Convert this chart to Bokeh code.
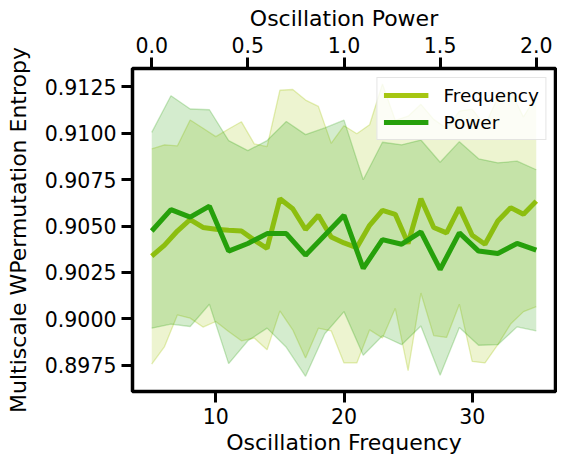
from bokeh.plotting import figure
from bokeh.models import (Range1d, LinearAxis, FixedTicker, Legend, LegendItem,
                          ColumnDataSource)
from bokeh.embed import file_html
from bokeh.resources import INLINE

# ---- data ----
freq = [5, 6, 7, 8, 9, 10, 11, 12, 13, 14, 15, 16, 17, 18, 19, 20,
        21, 22, 23, 24, 25, 26, 27, 28, 29, 30, 31, 32, 33, 34, 35]
freq_mean = [0.90338, 0.90397, 0.90473, 0.90535, 0.90492, 0.90483, 0.90477, 0.90473,
             0.90424, 0.90379, 0.90647, 0.90593, 0.90481, 0.90558, 0.90441, 0.90409,
             0.90384, 0.90504, 0.90584, 0.90563, 0.90406, 0.90647, 0.90492, 0.90463,
             0.90599, 0.90450, 0.90402, 0.90527, 0.90599, 0.90563, 0.90634]
freq_upper = [0.90915, 0.90937, 0.90931, 0.91071, 0.91026, 0.90981, 0.91022, 0.91061,
              0.90942, 0.90927, 0.91231, 0.91235, 0.91178, 0.91144, 0.90945, 0.91040,
              0.90997, 0.91045, 0.91265, 0.91069, 0.91091, 0.91155, 0.91074, 0.91026,
              0.91119, 0.91129, 0.91041, 0.91193, 0.91226, 0.91087, 0.91202]
freq_lower = [0.89757, 0.89851, 0.90021, 0.90004, 0.89956, 0.89986, 0.89932, 0.89882,
              0.89897, 0.89834, 0.90043, 0.89941, 0.89789, 0.89950, 0.89936, 0.89763,
              0.89763, 0.89941, 0.89897, 0.90057, 0.89721, 0.90139, 0.89910, 0.89900,
              0.90079, 0.89771, 0.89763, 0.89861, 0.89972, 0.90039, 0.90066]

power = [0.0, 0.1, 0.2, 0.3, 0.4, 0.5, 0.6, 0.7, 0.8, 0.9, 1.0,
         1.1, 1.2, 1.3, 1.4, 1.5, 1.6, 1.7, 1.8, 1.9, 2.0]
power_mean = [0.90473, 0.90588, 0.90548, 0.90607, 0.90365, 0.90406, 0.90459, 0.90459,
              0.90343, 0.90450, 0.90558, 0.90272, 0.90427, 0.90402, 0.90468, 0.90266,
              0.90463, 0.90365, 0.90352, 0.90406, 0.90370]
power_upper = [0.91004, 0.91201, 0.91130, 0.91126, 0.90960, 0.90906, 0.90960, 0.91063,
               0.90992, 0.91028, 0.91070, 0.90749, 0.90951, 0.90937, 0.90963, 0.90843,
               0.90954, 0.90862, 0.90840, 0.90849, 0.90803]
power_lower = [0.89950, 0.89972, 0.89959, 0.90079, 0.89759, 0.89882, 0.89950, 0.89847,
               0.89691, 0.89920, 0.90039, 0.89804, 0.89909, 0.89861, 0.89962, 0.89696,
               0.89954, 0.89858, 0.89861, 0.89957, 0.89936]

y_ticks = [0.8975, 0.9000, 0.9025, 0.9050, 0.9075, 0.9100, 0.9125]
y_tick_labels = ["0.8975", "0.9000", "0.9025", "0.9050", "0.9075", "0.9100", "0.9125"]
freq_ticks = [10, 20, 30]
power_ticks = [0.0, 0.5, 1.0, 1.5, 2.0]
power_tick_labels = ["0.0", "0.5", "1.0", "1.5", "2.0"]

FREQ_COLOR = "#a6c612"
POWER_COLOR = "#26a00b"
FONT = "DejaVu Sans"

fsrc = ColumnDataSource(dict(x=freq, m=freq_mean, u=freq_upper, l=freq_lower))
psrc = ColumnDataSource(dict(x=power, m=power_mean, u=power_upper, l=power_lower))

p = figure(width=557, height=460,
           x_range=Range1d(3.5, 36.5), y_range=Range1d(0.89609, 0.91348),
           output_backend="svg", toolbar_location=None,
           min_border_left=132, min_border_right=2, min_border_top=68, min_border_bottom=69)
p.extra_x_ranges = {"power": Range1d(-0.1, 2.1)}

p.grid.visible = False
p.outline_line_color = "black"
p.outline_line_width = 3.5
p.background_fill_color = "white"
p.border_fill_color = "white"

# frequency band + line
p.varea(x="x", y1="l", y2="u", source=fsrc, fill_color=FREQ_COLOR, fill_alpha=0.2)
p.line(x="x", y="u", source=fsrc, line_color=FREQ_COLOR, line_alpha=0.3, line_width=1.3)
p.line(x="x", y="l", source=fsrc, line_color=FREQ_COLOR, line_alpha=0.3, line_width=1.3)
fl = p.line(x="x", y="m", source=fsrc, line_color=FREQ_COLOR, line_width=5)

# power band + line
p.varea(x="x", y1="l", y2="u", source=psrc, fill_color=POWER_COLOR, fill_alpha=0.2,
        x_range_name="power")
p.line(x="x", y="u", source=psrc, line_color=POWER_COLOR, line_alpha=0.25, line_width=1.3,
       x_range_name="power")
p.line(x="x", y="l", source=psrc, line_color=POWER_COLOR, line_alpha=0.25, line_width=1.3,
       x_range_name="power")
pl = p.line(x="x", y="m", source=psrc, line_color=POWER_COLOR, line_width=5,
            x_range_name="power")

top_axis = LinearAxis(x_range_name="power", axis_label="Oscillation Power")
p.add_layout(top_axis, "above")

p.xaxis[1].axis_label = "Oscillation Frequency"
p.yaxis.axis_label = "Multiscale WPermutation Entropy"

p.xaxis[1].ticker = FixedTicker(ticks=freq_ticks)
top_axis.ticker = FixedTicker(ticks=power_ticks)
top_axis.major_label_overrides = {t: s for t, s in zip(power_ticks, power_tick_labels)}
p.yaxis.ticker = FixedTicker(ticks=y_ticks)
p.yaxis.major_label_overrides = {t: s for t, s in zip(y_ticks, y_tick_labels)}

for ax in [p.xaxis[0], p.xaxis[1], p.yaxis[0]]:
    ax.axis_line_color = None
    ax.major_tick_line_color = "black"
    ax.major_tick_line_width = 3
    ax.major_tick_out = 11
    ax.major_tick_in = 0
    ax.minor_tick_line_color = None
    ax.major_label_text_font = FONT
    ax.major_label_text_font_size = "20.5px"
    ax.major_label_text_color = "black"
    ax.major_label_standoff = 5
    ax.axis_label_text_font = FONT
    ax.axis_label_text_font_size = "22px"
    ax.axis_label_text_font_style = "normal"
    ax.axis_label_text_color = "black"
    ax.axis_label_standoff = 3
p.yaxis.axis_label_standoff = 11

legend = Legend(items=[LegendItem(label="Frequency", renderers=[fl]),
                       LegendItem(label="Power", renderers=[pl])],
                location="top_right")
legend.label_text_font = FONT
legend.label_text_font_size = "18.5px"
legend.label_text_color = "black"
legend.glyph_width = 45
legend.glyph_height = 22
legend.label_standoff = 15
legend.padding = 6
legend.spacing = 5
legend.margin = 9
legend.border_line_color = "#cccccc"
legend.border_line_width = 1.3
legend.background_fill_color = "white"
legend.background_fill_alpha = 0.8
p.add_layout(legend)

open("out.html", "w").write(file_html(p, INLINE))
